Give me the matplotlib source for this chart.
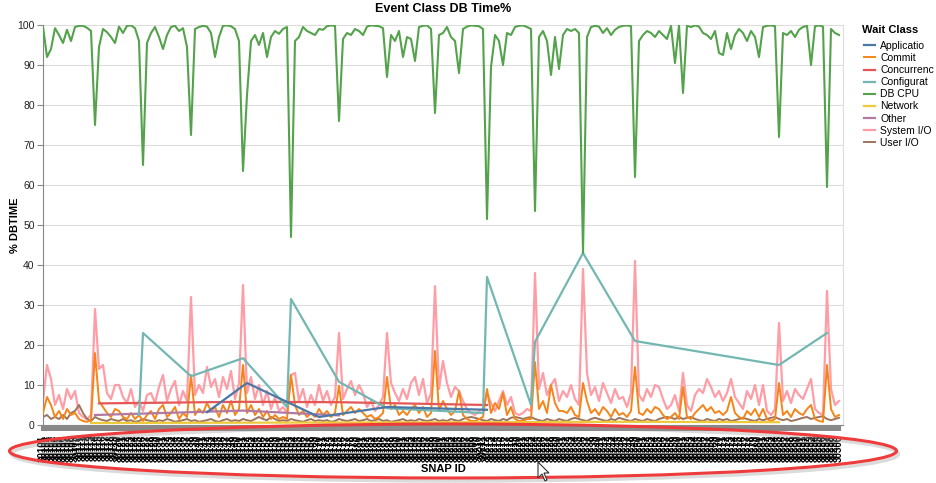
import matplotlib
matplotlib.use("Agg")
import matplotlib.pyplot as plt
from matplotlib.patches import Ellipse, Polygon

plt.rcParams['font.family'] = ['Liberation Sans', 'DejaVu Sans']

# snapshot ids on the x axis (one category per snapshot)
snap_ids = list(range(30101, 30301))

db_cpu = [
    99.6, 92.0, 94.0, 99.2, 97.5, 95.5, 98.8, 96.0, 99.5, 99.8,
    99.8, 99.3, 98.5, 75.0, 94.5, 99.0, 98.2, 97.0, 95.5, 99.6,
    98.0, 99.8, 99.9, 99.2, 96.0, 65.0, 95.5, 98.0, 99.5, 97.0,
    94.0, 97.5, 99.5, 99.8, 98.5, 99.2, 94.5, 72.5, 99.0, 99.5,
    99.8, 99.6, 98.0, 92.0, 97.0, 99.8, 99.9, 99.7, 99.0, 96.0,
    63.5, 82.5, 96.0, 97.5, 95.0, 98.0, 92.0, 97.0, 98.5, 97.8,
    99.0, 99.5, 47.0, 96.0, 97.0, 99.5, 98.5, 98.0, 97.5, 99.0,
    98.8, 99.7, 99.9, 99.8, 76.0, 96.5, 98.0, 97.5, 99.0, 98.5,
    97.5, 99.6, 99.9, 99.8, 99.7, 99.2, 87.0, 97.5, 96.0, 98.5,
    92.0, 97.0, 96.5, 91.0, 99.5, 99.8, 99.9, 99.0, 78.0, 97.5,
    98.0, 99.5, 97.0, 96.0, 88.0, 99.0, 99.6, 99.9, 99.8, 99.7,
    99.0, 51.5, 89.5, 97.5, 96.0, 90.0, 98.0, 97.5, 99.5, 99.8,
    99.9, 99.5, 99.0, 53.5, 97.0, 98.5, 96.0, 87.5, 97.0, 89.0,
    97.5, 99.0, 98.5, 99.0, 98.0, 43.0, 97.0, 99.5, 99.8, 99.6,
    98.0, 99.2, 97.5, 98.8, 99.5, 99.8, 99.9, 99.7, 62.0, 96.0,
    97.5, 98.5, 98.0, 97.0, 98.5, 97.5, 96.5, 99.8, 90.5, 99.9,
    83.0, 99.8, 99.5, 99.9, 99.6, 98.0, 97.5, 96.5, 98.5, 93.0,
    92.5, 98.0, 94.0, 97.5, 99.0, 98.0, 96.0, 98.5, 97.0, 92.0,
    99.5, 99.8, 99.9, 99.7, 72.0, 98.0, 97.5, 98.5, 97.0, 98.8,
    99.5, 99.8, 90.0, 99.7, 99.9, 99.6, 59.5, 99.0, 98.0, 97.5,
]

system_io = [
    6.0, 15.0, 11.5, 5.0, 7.5, 4.0, 9.0, 6.5, 8.5, 3.0,
    2.0, 1.5, 2.5, 29.0, 14.0, 15.0, 8.0, 6.5, 10.0, 10.0,
    7.0, 5.5, 9.0, 4.5, 6.0, 3.5, 7.5, 8.0, 5.5, 9.5,
    12.5, 6.0, 9.0, 11.0, 5.0, 8.5, 6.0, 32.0, 7.5, 10.0,
    8.0, 14.5, 9.5, 11.5, 7.0, 12.0, 9.0, 13.5, 6.5, 10.5,
    35.0, 8.0, 12.0, 6.5, 10.0, 5.0, 8.5, 4.0, 7.0, 3.5,
    4.5, 3.0, 12.5, 13.0, 6.0, 9.0, 4.5, 7.5, 5.0, 10.0,
    6.0, 8.5, 5.0, 7.0, 23.0, 6.5, 9.0, 11.0, 7.5, 10.0,
    8.0, 4.5, 6.0, 3.5, 5.0, 7.0, 23.0, 10.5, 8.0, 6.0,
    9.0, 6.5, 10.5, 12.0, 7.5, 11.5, 5.5, 8.0, 34.7, 9.0,
    16.0, 10.5, 7.0, 9.5, 8.5, 6.0, 4.0, 3.0, 2.5, 3.5,
    4.0, 8.0, 5.5, 3.5, 6.0, 8.5, 5.0, 7.0, 3.0, 2.5,
    3.0, 4.0, 3.5, 38.0, 9.0, 13.0, 7.5, 10.0, 11.5, 6.0,
    8.5, 7.0, 10.0, 6.5, 5.0, 39.0, 13.0, 7.5, 9.5, 6.0,
    10.5, 8.0, 5.5, 9.0, 6.5, 7.0, 4.5, 8.0, 41.0, 7.5,
    6.0, 9.0, 7.0, 10.0, 9.5, 6.5, 4.0, 5.0, 7.5, 3.5,
    13.0, 5.0, 3.5, 7.5, 9.0, 8.0, 11.5, 9.5, 7.0, 8.5,
    6.0, 8.0, 11.5, 7.0, 5.5, 4.0, 8.5, 6.5, 10.0, 5.0,
    10.0, 3.5, 2.5, 4.0, 25.5, 6.0, 8.5, 5.5, 9.0, 7.5,
    6.5, 9.0, 11.5, 4.0, 3.0, 2.5, 33.5, 9.0, 5.0, 6.0,
]

commit = [
    3.0, 7.0, 5.0, 2.0, 3.5, 1.5, 4.0, 2.5, 3.0, 1.5,
    1.0, 0.8, 1.2, 18.0, 6.0, 4.5, 3.0, 2.0, 4.0, 3.5,
    2.0, 1.5, 3.0, 1.5, 2.5, 1.0, 2.5, 3.5, 1.5, 4.0,
    5.0, 2.0, 3.0, 4.5, 1.5, 3.0, 2.0, 12.5, 2.5, 4.0,
    3.0, 5.5, 3.5, 4.5, 2.0, 5.0, 3.0, 6.0, 2.5, 4.0,
    15.0, 3.0, 5.0, 2.5, 4.0, 2.0, 3.5, 1.5, 2.5, 1.5,
    2.0, 1.5, 12.5, 5.0, 2.5, 3.5, 2.0, 3.0, 2.0, 4.0,
    2.5, 3.5, 2.0, 3.0, 9.8, 2.5, 3.5, 4.5, 3.0, 4.0,
    3.0, 2.0, 2.5, 1.5, 2.0, 3.0, 12.0, 4.0, 5.0, 2.5,
    3.5, 2.5, 4.0, 5.0, 3.0, 4.5, 2.0, 3.0, 18.5, 3.5,
    6.0, 4.0, 2.5, 3.5, 8.5, 2.5, 1.5, 1.0, 1.0, 1.5,
    2.0, 9.0, 3.0, 5.5, 4.0, 8.0, 2.5, 4.5, 1.5, 1.0,
    1.0, 1.5, 1.5, 15.7, 4.0, 6.0, 3.0, 10.0, 5.5, 3.5,
    3.5, 3.0, 4.5, 2.5, 2.0, 10.5, 6.0, 3.0, 4.0, 2.5,
    4.5, 3.5, 2.0, 4.0, 2.5, 3.0, 2.0, 3.5, 14.5, 3.0,
    2.5, 4.0, 3.0, 4.5, 4.0, 2.5, 1.5, 2.0, 3.0, 1.5,
    9.5, 2.0, 1.5, 3.0, 4.0, 5.0, 3.5, 4.5, 3.0, 3.5,
    2.5, 3.5, 7.0, 3.0, 2.0, 1.5, 3.5, 2.5, 4.0, 2.0,
    4.0, 1.5, 1.0, 1.5, 10.5, 2.5, 3.5, 2.0, 4.0, 3.0,
    2.5, 4.0, 5.0, 1.5, 1.0, 0.8, 15.0, 4.0, 2.0, 2.5,
]

user_io = [
    2.0, 2.5, 1.5, 2.0, 1.5, 2.5, 1.5, 3.0, 3.5, 5.0,
    3.0, 1.5, 1.0, 2.0, 1.5, 1.2, 1.0, 1.5, 1.2, 1.0,
    1.5, 1.0, 1.2, 0.8, 1.0, 1.5, 1.2, 1.0, 0.8, 1.2,
    1.0, 1.5, 1.2, 0.8, 1.0, 1.2, 1.5, 1.0, 1.2, 0.8,
    1.0, 1.2, 1.5, 1.0, 0.8, 1.2, 1.5, 1.0, 1.2, 1.0,
    1.5, 1.2, 1.0, 1.5, 2.0, 1.5, 1.2, 2.0, 1.5, 1.0,
    1.2, 1.0, 1.5, 1.2, 1.0, 0.8, 1.2, 1.5, 1.0, 1.2,
    1.0, 1.2, 0.8, 1.0, 1.5, 1.2, 1.0, 1.2, 1.5, 1.0,
    1.2, 1.5, 1.0, 1.2, 1.5, 1.0, 1.2, 0.8, 1.0, 1.2,
    1.5, 1.0, 1.2, 1.0, 1.5, 1.2, 1.0, 1.2, 1.5, 1.0,
    1.2, 1.0, 1.5, 1.2, 1.0, 1.5, 1.8, 2.0, 1.8, 1.5,
    1.2, 1.0, 1.5, 1.2, 1.0, 1.5, 1.2, 1.8, 2.0, 1.8,
    1.5, 1.8, 2.0, 1.5, 1.2, 1.0, 1.5, 1.2, 1.0, 1.5,
    1.2, 1.0, 1.5, 1.8, 1.5, 1.2, 1.0, 1.5, 1.8, 1.5,
    1.2, 1.0, 1.5, 1.2, 1.8, 1.5, 1.2, 1.0, 1.5, 1.2,
    1.0, 1.5, 1.2, 1.0, 1.5, 1.8, 2.0, 1.8, 1.5, 2.0,
    1.5, 1.8, 2.0, 1.5, 1.2, 1.0, 1.5, 1.2, 1.0, 1.5,
    1.2, 1.5, 1.0, 1.2, 1.5, 1.8, 1.5, 1.2, 1.0, 1.5,
    1.2, 1.5, 1.8, 2.0, 1.5, 1.2, 1.5, 1.0, 1.2, 1.5,
    1.8, 2.0, 1.5, 1.8, 2.0, 2.2, 1.5, 1.2, 1.5, 1.8,
]

# sparse wait classes: only a few snapshots have a value
application_snap = [41, 51, 69, 86, 111]
application_val = [3.2, 10.5, 2.0, 4.5, 3.8]

concurrency_snap = [14, 50, 74, 111]
concurrency_val = [5.4, 5.8, 5.7, 5.0]

configuration_snap = [24, 25, 37, 50, 61, 62, 74, 86, 110, 111, 122, 123, 135, 148, 184, 196]
configuration_val = [2.5, 23.0, 12.2, 16.7, 4.5, 31.5, 10.8, 4.2, 3.0, 37.0, 5.0, 20.8, 43.0, 21.0, 15.0, 23.0]

network_snap = [12, 62, 111, 148, 184]
network_val = [0.5, 0.6, 0.7, 0.8, 0.7]

other_snap = [13, 50, 74]
other_val = [2.5, 3.6, 2.4]

colors = {
    'Applicatio': '#4c78a8', 'Commit': '#f58518', 'Concurrenc': '#e45756',
    'Configurat': '#72b7b2', 'DB CPU': '#54a24b', 'Network': '#eeca3b',
    'Other': '#b279a2', 'System I/O': '#ff9da6', 'User I/O': '#9d755d',
}

fig = plt.figure(figsize=(9.37, 4.83), dpi=100)
ax = fig.add_axes([43 / 937, 58 / 483, 800 / 937, 400 / 483])

idx = list(range(len(snap_ids)))
lines = {}
lines['System I/O'], = ax.plot(idx, system_io, color=colors['System I/O'], lw=1.6, zorder=1)
lines['User I/O'], = ax.plot(idx, user_io, color=colors['User I/O'], lw=1.4, zorder=2)
lines['Commit'], = ax.plot(idx, commit, color=colors['Commit'], lw=1.4, zorder=3)
lines['Network'], = ax.plot(network_snap, network_val, color=colors['Network'], lw=1.6, zorder=4)
lines['Other'], = ax.plot(other_snap, other_val, color=colors['Other'], lw=1.6, zorder=5)
lines['Concurrenc'], = ax.plot(concurrency_snap, concurrency_val, color=colors['Concurrenc'], lw=1.6, zorder=6)
lines['Configurat'], = ax.plot(configuration_snap, configuration_val, color=colors['Configurat'], lw=1.6, zorder=7)
lines['Applicatio'], = ax.plot(application_snap, application_val, color=colors['Applicatio'], lw=1.6, zorder=8)
lines['DB CPU'], = ax.plot(idx, db_cpu, color=colors['DB CPU'], lw=1.5, zorder=9)

ax.set_xlim(0, len(snap_ids))
ax.set_ylim(0, 100)
ax.set_yticks(range(0, 101, 10))
ax.yaxis.grid(True, color='#dddddd', lw=0.8)
ax.set_axisbelow(True)
ax.tick_params(axis='y', labelsize=7.5, length=4, color='#888888', labelcolor='#222222', pad=2)

# one label per snapshot: they pile up into a dark band, as in the original
ax.set_xticks(idx)
ax.set_xticklabels([str(s) for s in snap_ids], rotation=90, fontsize=7,
                   fontweight='bold', color='black')
ax.tick_params(axis='x', length=4.5, width=3, color='#888888', pad=2.5)

for side in ('left', 'bottom'):
    ax.spines[side].set_color('#888888')
ax.spines['top'].set_visible(False)
ax.spines['right'].set_color('#dddddd')

fig.text(443 / 937, 1 - 9 / 483, 'Event Class DB Time%', ha='center', va='center',
         fontsize=9, fontweight='bold')
fig.text(15 / 937, 1 - 225 / 483, '% DBTIME', ha='center', va='center', rotation=90,
         fontsize=8, fontweight='bold')
fig.text(443 / 937, 1 - 469 / 483, 'SNAP ID', ha='center', va='center',
         fontsize=8, fontweight='bold')

order = ['Applicatio', 'Commit', 'Concurrenc', 'Configurat', 'DB CPU',
         'Network', 'Other', 'System I/O', 'User I/O']
fig.text(862 / 937, 1 - 30 / 483, 'Wait Class', ha='left', va='center',
         fontsize=8, fontweight='bold')
fig.legend([lines[k] for k in order], order, loc='upper left',
           bbox_to_anchor=(864 / 937, 1 - 41 / 483), frameon=False,
           fontsize=7.5, handlelength=1.05, handletextpad=0.5, labelspacing=0.2,
           borderpad=0, borderaxespad=0)

# red ellipse drawn around the x axis labels, with a soft shadow
cx, cy, w, h = 453, 451, 887, 54
fig.patches.append(Ellipse(((cx + 2) / 937, 1 - (cy + 3) / 483), w / 937, h / 483,
                           transform=fig.transFigure, fill=False, ec='#999999',
                           lw=2.5, alpha=0.35, zorder=20))
fig.patches.append(Ellipse((cx / 937, 1 - cy / 483), w / 937, h / 483,
                           transform=fig.transFigure, fill=False, ec='#ee3b3b',
                           lw=2.2, zorder=21))

# mouse pointer
tip_x, tip_y = 538, 462
shape = [(0, 0), (0, 16), (4, 12), (7, 19), (9, 18), (6, 11), (11, 11)]
pts = [((tip_x + dx) / 937, 1 - (tip_y + dy) / 483) for dx, dy in shape]
fig.patches.append(Polygon(pts, closed=True, transform=fig.transFigure,
                           fc='white', ec='#333333', lw=0.8, zorder=22))

fig.savefig('out.png', dpi=100)
